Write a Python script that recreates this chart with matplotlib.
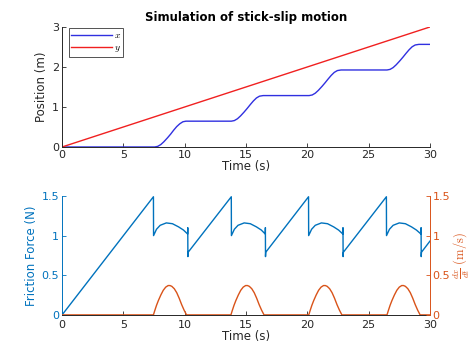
import matplotlib
matplotlib.use('Agg')
import matplotlib.pyplot as plt

plt.rcParams['font.family'] = 'DejaVu Sans'
plt.rcParams['mathtext.fontset'] = 'cm'

# position of the block (x) and of the driver (y)
t_x = [0, 7.55, 7.8, 8.05, 8.3, 8.6, 8.85, 9.1, 9.35, 9.6, 9.85, 10.1,
       13.8, 14.05, 14.3, 14.55, 14.85, 15.1, 15.35, 15.6, 15.85, 16.1, 16.4,
       20.15, 20.4, 20.65, 20.9, 21.2, 21.45, 21.7, 21.95, 22.2, 22.45, 22.75,
       26.5, 26.75, 27.0, 27.25, 27.55, 27.8, 28.05, 28.3, 28.55, 28.8, 29.1, 30]
pos_x = [0, 0, 0.015, 0.06, 0.13, 0.23, 0.32, 0.42, 0.51, 0.58, 0.63, 0.645,
         0.645, 0.66, 0.705, 0.775, 0.875, 0.965, 1.06, 1.15, 1.225, 1.27, 1.285,
         1.285, 1.30, 1.345, 1.415, 1.515, 1.605, 1.70, 1.79, 1.865, 1.91, 1.925,
         1.925, 1.94, 1.985, 2.055, 2.155, 2.245, 2.34, 2.43, 2.505, 2.55, 2.565, 2.565]
t_y = [0, 30]
pos_y = [0, 3]

# friction force
t_f = [0, 7.45, 7.46, 7.7, 8.0, 8.5, 9.0, 9.5, 9.9, 10.24, 10.25, 10.26, 10.28,
       13.8, 13.81, 14.05, 14.35, 14.85, 15.35, 15.85, 16.25, 16.57, 16.58, 16.59, 16.61,
       20.1, 20.11, 20.35, 20.65, 21.15, 21.65, 22.15, 22.55, 22.9, 22.91, 22.92, 22.94,
       26.45, 26.46, 26.7, 27.0, 27.5, 28.0, 28.5, 28.9, 29.27, 29.28, 29.29, 29.31, 30]
fric = [0, 1.49, 1.0, 1.08, 1.13, 1.16, 1.15, 1.11, 1.07, 1.02, 1.10, 0.735, 0.79,
        1.49, 1.0, 1.08, 1.13, 1.16, 1.15, 1.11, 1.07, 1.02, 1.10, 0.735, 0.79,
        1.49, 1.0, 1.08, 1.13, 1.16, 1.15, 1.11, 1.07, 1.02, 1.10, 0.735, 0.79,
        1.49, 1.0, 1.08, 1.13, 1.16, 1.15, 1.11, 1.07, 1.02, 1.10, 0.735, 0.79, 0.93]

# block velocity
t_v = [0,
       7.45, 7.55, 7.7, 7.85, 8.05, 8.25, 8.45, 8.65, 8.8, 8.95, 9.15, 9.35, 9.55, 9.75, 9.95, 10.15,
       13.77, 13.87, 14.02, 14.17, 14.37, 14.57, 14.77, 14.97, 15.12, 15.27, 15.47, 15.67, 15.87,
       16.07, 16.27, 16.47,
       20.12, 20.22, 20.37, 20.52, 20.72, 20.92, 21.12, 21.32, 21.47, 21.62, 21.82, 22.02, 22.22,
       22.42, 22.62, 22.82,
       26.5, 26.6, 26.75, 26.9, 27.1, 27.3, 27.5, 27.7, 27.85, 28.0, 28.2, 28.4, 28.6, 28.8, 29.0, 29.2,
       30]
vel = [0,
       0, 0.05, 0.12, 0.18, 0.25, 0.31, 0.35, 0.37, 0.37, 0.36, 0.33, 0.28, 0.21, 0.13, 0.06, 0,
       0, 0.05, 0.12, 0.18, 0.25, 0.31, 0.35, 0.37, 0.37, 0.36, 0.33, 0.28, 0.21, 0.13, 0.06, 0,
       0, 0.05, 0.12, 0.18, 0.25, 0.31, 0.35, 0.37, 0.37, 0.36, 0.33, 0.28, 0.21, 0.13, 0.06, 0,
       0, 0.05, 0.12, 0.18, 0.25, 0.31, 0.35, 0.37, 0.37, 0.36, 0.33, 0.28, 0.21, 0.13, 0.06, 0,
       0]

blue = '#0072BD'
orange = '#D95319'
grey = '#262626'


def style_axis(ax):
    ax.tick_params(direction='in', length=3, width=0.6, labelsize=8, colors=grey, pad=2)
    ax.spines['top'].set_visible(False)
    ax.spines['right'].set_visible(False)
    for s in ax.spines.values():
        s.set_linewidth(0.7)
        s.set_color(grey)


def main():
    fig = plt.figure(figsize=(4.74, 3.55), dpi=100)

    ax1 = fig.add_axes([0.131, 0.586, 0.776, 0.338])
    ax1.plot(t_x, pos_x, color='#3030e0', lw=1.0, label='$x$')
    ax1.plot(t_y, pos_y, color='#f02020', lw=1.0, label='$y$')
    style_axis(ax1)
    ax1.set_xlim(0, 30)
    ax1.set_ylim(0, 3)
    ax1.set_xticks([0, 5, 10, 15, 20, 25, 30])
    ax1.set_yticks([0, 1, 2, 3])
    ax1.set_xlabel('Time (s)', fontsize=8.5, color=grey, labelpad=0)
    ax1.set_ylabel('Position (m)', fontsize=8.5, color=grey, labelpad=3)
    ax1.set_title('Simulation of stick-slip motion', fontsize=8.5, fontweight='bold', pad=4)
    leg = ax1.legend(loc='upper left', fontsize=7, handlelength=4.2, handletextpad=0.2,
                     borderpad=0.25, labelspacing=0.2, fancybox=False,
                     bbox_to_anchor=(0.015, 1.0), borderaxespad=0.1)
    leg.get_frame().set_edgecolor(grey)
    leg.get_frame().set_linewidth(0.7)

    ax2 = fig.add_axes([0.131, 0.113, 0.776, 0.335])
    ax2.plot(t_f, fric, color=blue, lw=1.0)
    style_axis(ax2)
    ax2.tick_params(axis='x', pad=4)
    ax2.spines['left'].set_color(blue)
    ax2.tick_params(axis='y', colors=blue)
    ax2.set_xlim(0, 30)
    ax2.set_ylim(0, 1.5)
    ax2.set_xticks([0, 5, 10, 15, 20, 25, 30])
    ax2.set_yticks([0, 0.5, 1, 1.5])
    ax2.set_yticklabels(['0', '0.5', '1', '1.5'])
    ax2.set_xlabel('Time (s)', fontsize=8.5, color=grey, labelpad=0)
    ax2.set_ylabel('Friction Force (N)', fontsize=8.5, color=blue, labelpad=3)

    ax3 = ax2.twinx()
    ax3.plot(t_v, vel, color=orange, lw=1.0)
    ax3.set_ylim(0, 1.5)
    ax3.set_yticks([0, 0.5, 1, 1.5])
    ax3.set_yticklabels(['0', '0.5', '1', '1.5'])
    ax3.tick_params(direction='in', length=3, width=0.6, labelsize=8, colors=orange, pad=2)
    for k in ['top', 'left', 'bottom']:
        ax3.spines[k].set_visible(False)
    ax3.spines['right'].set_color(orange)
    ax3.spines['right'].set_linewidth(0.7)
    ax3.set_ylabel(r'$\frac{dx}{dt}\ \mathrm{(m/s)}$', fontsize=9, color=orange, labelpad=1)

    fig.savefig('out.png', dpi=100)


if __name__ == '__main__':
    main()
